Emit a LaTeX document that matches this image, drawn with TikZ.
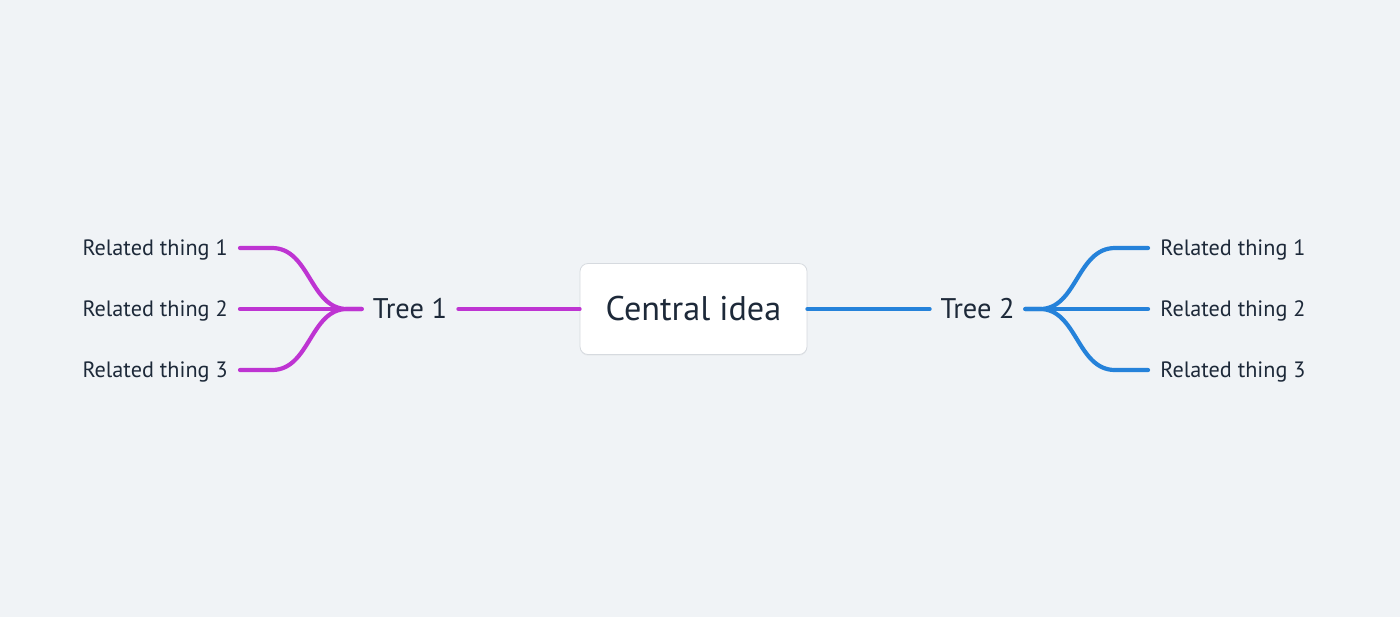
\documentclass[tikz,border=0pt]{standalone}
\usepackage{fontspec}
\setmainfont{PT Sans}
\usetikzlibrary{shadows}
\definecolor{bgcol}{HTML}{F0F3F6}
\definecolor{inkcol}{HTML}{1D2939}
\definecolor{purplecol}{HTML}{BE34D2}
\definecolor{bluecol}{HTML}{2582DA}
\definecolor{boxline}{HTML}{D6DADF}
\tikzset{
  related/.style={inner ysep=0pt, inner xsep=6pt, text height=7.6pt, text depth=0pt,
    font=\fontsize{11.1}{13}\selectfont, text=inkcol},
  treenode/.style={inner sep=0pt, minimum width=48pt, text height=9.8pt, text depth=0pt,
    font=\fontsize{14.2}{16}\selectfont, text=inkcol},
  centralbox/.style={draw=boxline, line width=0.4pt, fill=white, rounded corners=4pt,
    minimum width=113.5pt, minimum height=45.5pt, text height=11.8pt, text depth=0pt,
    font=\fontsize{17.1}{20}\selectfont, text=inkcol,
    drop shadow={shadow xshift=0pt, shadow yshift=-0.6pt, opacity=0.08}},
  branch/.style={line width=2.1pt, line cap=round}
}
\begin{document}
\begin{tikzpicture}[x=0.5pt,y=-0.5pt]
\fill[bgcol] (0,0) rectangle (1400,617);
\useasboundingbox (0,0) rectangle (1400,617);
% centre
\node[centralbox] (central) at (693.5,309) {Central idea};
% tree 1
\node[treenode] (tree1) at (410,309) {Tree 1};
\coordinate (j1) at (347,309);
\node[related, anchor=east] (a1) at (240,248) {Related thing 1};
\node[related, anchor=east] (a2) at (240,309) {Related thing 2};
\node[related, anchor=east] (a3) at (240,370) {Related thing 3};
% tree 2
\node[treenode, minimum width=47.5pt] (tree2) at (977.5,309) {Tree 2};
\coordinate (j2) at (1040,309);
\node[related, anchor=west] (b1) at (1148,248) {Related thing 1};
\node[related, anchor=west] (b2) at (1148,309) {Related thing 2};
\node[related, anchor=west] (b3) at (1148,370) {Related thing 3};
% connectors
\begin{scope}[branch, purplecol]
\draw (central.west) -- (tree1.east);
\draw (a1.east) -- ++(32,0) .. controls +(38,0) and +(-37,0) .. (j1) -- (tree1.west);
\draw (a2.east) -- (tree1.west);
\draw (a3.east) -- ++(32,0) .. controls +(38,0) and +(-37,0) .. (j1) -- (tree1.west);
\end{scope}
\begin{scope}[branch, bluecol]
\draw (central.east) -- (tree2.west);
\draw (b1.west) -- ++(-33,0) .. controls +(-38,0) and +(37,0) .. (j2) -- (tree2.east);
\draw (b2.west) -- (tree2.east);
\draw (b3.west) -- ++(-33,0) .. controls +(-38,0) and +(37,0) .. (j2) -- (tree2.east);
\end{scope}
\end{tikzpicture}
\end{document}
